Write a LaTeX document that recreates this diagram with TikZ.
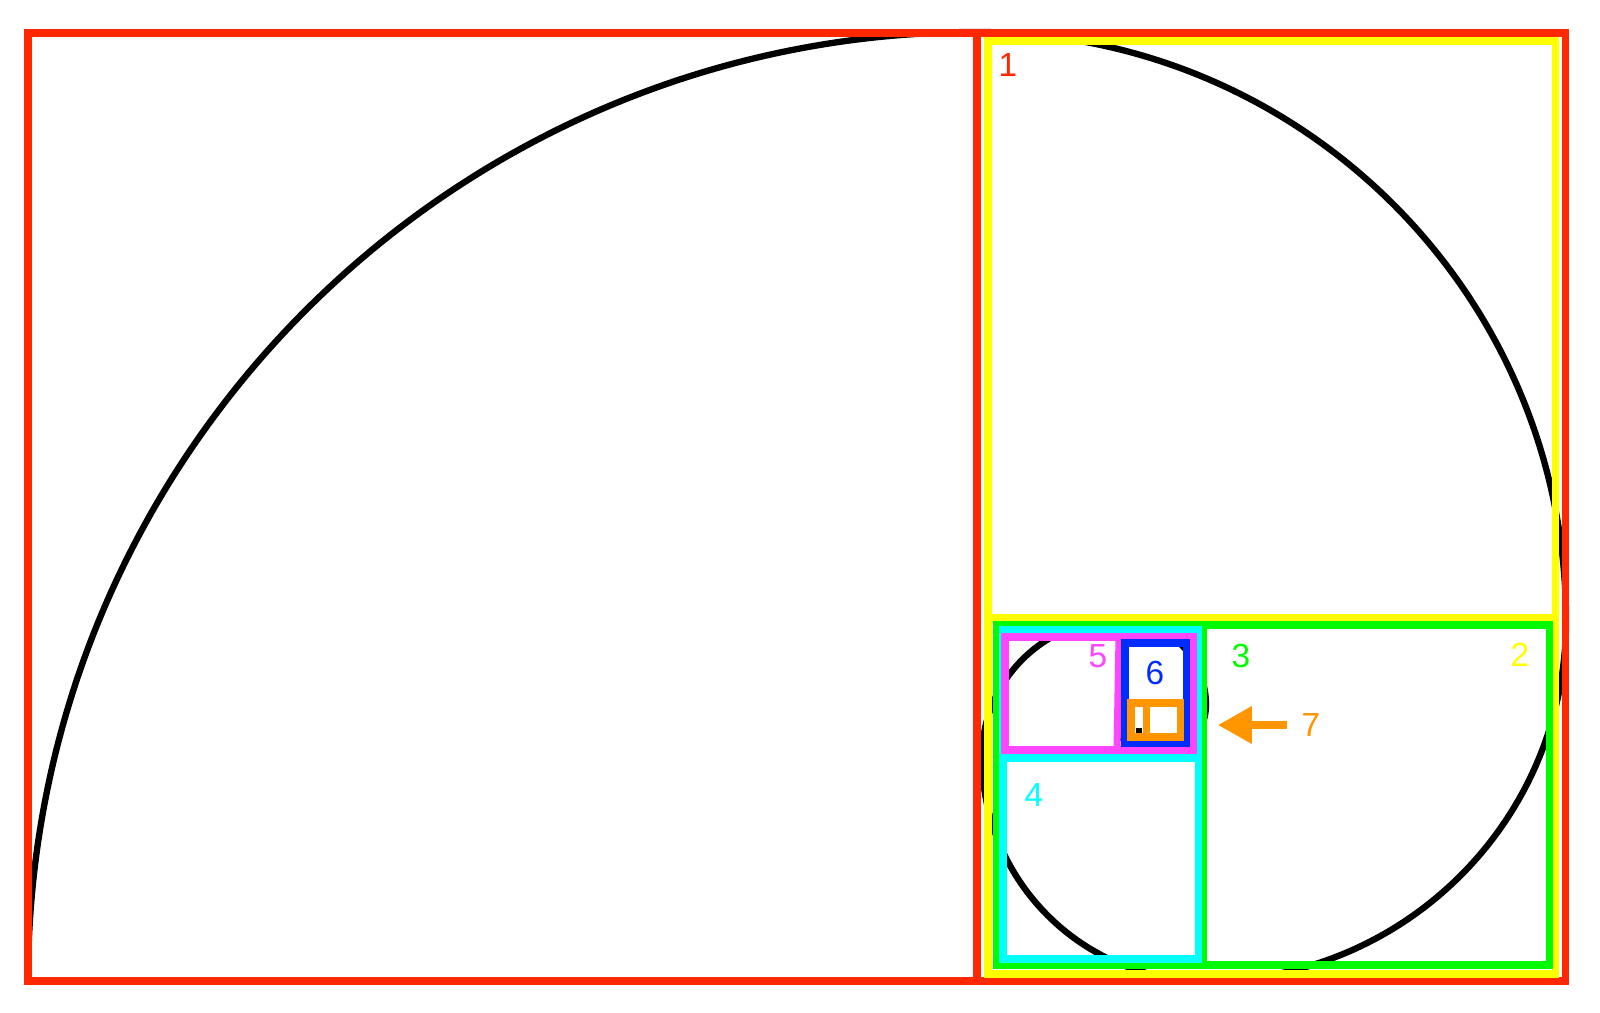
\documentclass[tikz,border=0pt]{standalone}
\usepackage{fontspec}
\setmainfont{Liberation Sans}
\usetikzlibrary{arrows.meta}
\definecolor{fibred}{RGB}{255,40,0}
\definecolor{fibyellow}{RGB}{255,255,0}
\definecolor{fibgreen}{RGB}{0,250,0}
\definecolor{fibcyan}{RGB}{0,255,255}
\definecolor{fibmagenta}{RGB}{255,70,255}
\definecolor{fibblue}{RGB}{0,45,255}
\definecolor{fiborange}{RGB}{255,150,0}

\begin{document}
\begin{tikzpicture}[x=0.01cm, y=0.01cm, yscale=-1,
        box/.style={line width=2pt},
        spiral/.style={line width=1.8pt, black},
        num/.style={font=\fontsize{9.5}{11}\selectfont, inner sep=0pt}]
        \useasboundingbox (0,0) rectangle (1600,1012);

        \draw[spiral] (28,981) arc[start angle=180, end angle=270, radius=949]
            arc[start angle=270, end angle=360, radius=589]
            arc[start angle=0, end angle=90, radius=360]
            arc[start angle=90, end angle=180, radius=224]
            arc[start angle=180, end angle=270, radius=138]
            arc[start angle=270, end angle=360, radius=86]
            arc[start angle=0, end angle=90, radius=53]
            arc[start angle=90, end angle=180, radius=33];
        \draw[spiral] (1136,731) -- (1142,731);

        \draw[box, fibred] (28,33) rectangle (1565,981);
        \draw[box, fibred] (977,33) -- (977,981);
        \draw[box, fibyellow] (988,41) rectangle (1555,974);
        \draw[box, fibyellow] (988,618) -- (1555,618);
        \draw[box, fibgreen] (997,625) rectangle (1549,965);
        \draw[box, fibgreen] (1203,625) -- (1203,965);
        \draw[box, fibcyan] (1003,630) rectangle (1198,959);
        \draw[box, fibcyan] (1003,758) -- (1198,758);
        \draw[box, fibmagenta] (1005,637) rectangle (1193,750);
        \draw[box, fibmagenta] (1119,637) -- (1117,750);
        \draw[box, fibblue] (1125,643) rectangle (1186,743);
        \draw[box, fiborange] (1131,703) rectangle (1180,737);
        \draw[box, fiborange] (1146.5,703) -- (1146.5,737);

        \node[num, text=fibred] (n1) at (1008,65) {1};
        \node[num, text=fibyellow] (n2) at (1520,655) {2};
        \node[num, text=fibgreen] (n3) at (1241,656) {3};
        \node[num, text=fibcyan] (n4) at (1034,795) {4};
        \node[num, text=fibmagenta] (n5) at (1098,656) {5};
        \node[num, text=fibblue] (n6) at (1155,673) {6};
        \node[num, text=fiborange] (n7) at (1311,725) {7};

        \coordinate (tip7) at (1218,725);
        \draw[box, fiborange, -{Triangle[length=9.6pt, width=10.2pt]}, shorten <=4pt] (n7) -- (tip7);
\end{tikzpicture}
\end{document}
